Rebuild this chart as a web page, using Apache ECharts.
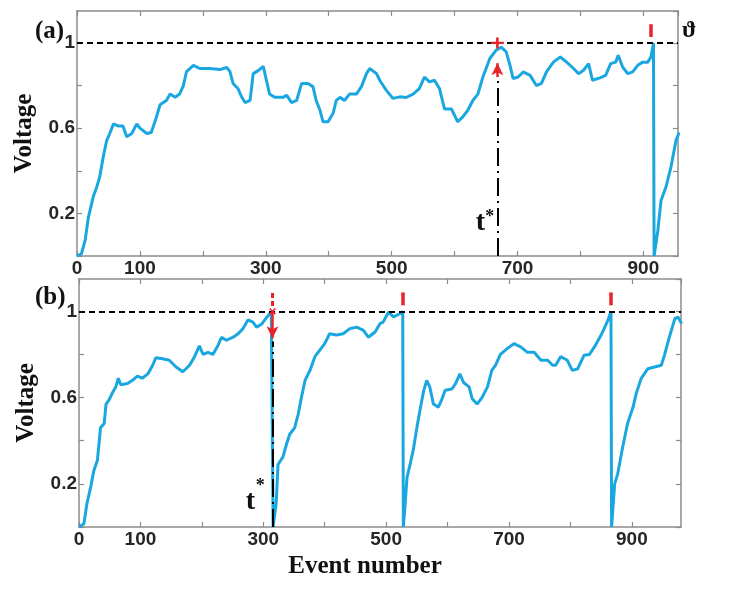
<!DOCTYPE html>
<html>
<head>
<meta charset="utf-8">
<script src="https://cdn.jsdelivr.net/npm/echarts/dist/echarts.min.js"></script>
<style>
html,body{margin:0;padding:0;background:#fff;}
#chart{width:756px;height:592px;}
</style>
</head>
<body>
<div id="chart"></div>
<script>
// ---------- data ----------
const xTickLabels = [0, 100, 300, 500, 700, 900];
const yTickLabels = [0.2, 0.6, 1];
const threshold = 1;

// panel (a)
const eventsA = [0,7,13,18,26,31,36,42,47,52,58,66,73,79,87,95,100,111,118,126,132,142,148,156,163,169,174,185,195,211,227,238,243,248,256,261,267,275,280,288,296,301,306,314,328,333,341,349,357,367,375,380,386,391,399,407,412,418,425,433,444,452,460,465,476,481,491,502,513,523,534,544,552,560,568,576,584,595,605,613,621,629,637,645,656,666,674,682,688,693,701,709,720,730,738,746,757,768,778,789,797,805,813,819,832,840,848,856,860,867,875,883,891,899,907,912,916,917,923,928,936,944,952,957];
const voltageA = [0,0.01,0.075,0.18,0.28,0.32,0.37,0.47,0.54,0.575,0.62,0.61,0.61,0.56,0.575,0.62,0.6,0.575,0.58,0.65,0.71,0.73,0.76,0.745,0.76,0.8,0.865,0.895,0.88,0.88,0.875,0.885,0.865,0.81,0.785,0.75,0.72,0.73,0.856,0.87,0.89,0.825,0.76,0.745,0.745,0.755,0.72,0.73,0.81,0.81,0.795,0.73,0.685,0.63,0.63,0.67,0.73,0.745,0.73,0.76,0.76,0.795,0.856,0.88,0.856,0.825,0.78,0.74,0.747,0.744,0.76,0.786,0.84,0.817,0.825,0.786,0.69,0.69,0.63,0.653,0.684,0.73,0.76,0.84,0.927,0.966,0.98,0.958,0.895,0.833,0.84,0.864,0.848,0.8,0.81,0.864,0.91,0.934,0.91,0.88,0.856,0.872,0.903,0.825,0.837,0.848,0.903,0.91,0.942,0.887,0.856,0.864,0.895,0.91,0.91,0.934,1.0,0.0,0.12,0.26,0.325,0.42,0.545,0.58];
const tStarA = 668;
const fireTimesA = [911];
const xMaxA = 955;

// panel (b)
const eventsB = [0,8,13,19,24,30,35,41,44,49,54,60,64,68,79,87,95,103,112,120,125,136,147,158,169,180,188,196,202,210,218,226,232,240,251,259,267,275,283,289,297,305,313,315,316,321,324,332,338,343,351,357,362,368,376,384,392,400,408,419,430,441,452,463,471,482,490,495,504,512,523,527,528,531,534,539,544,550,555,561,566,571,577,585,590,596,607,613,620,626,635,640,648,656,665,672,678,686,697,708,719,730,741,752,763,771,776,784,795,803,812,822,831,839,850,861,866,867,872,877,885,893,902,907,915,926,937,948,953,961,970,975,981];
const voltageB = [0,0.015,0.11,0.185,0.26,0.31,0.46,0.48,0.57,0.59,0.62,0.65,0.69,0.66,0.665,0.68,0.70,0.69,0.71,0.75,0.785,0.78,0.773,0.742,0.72,0.75,0.79,0.84,0.80,0.81,0.80,0.84,0.88,0.866,0.88,0.896,0.92,0.96,0.95,0.927,0.94,0.97,0.997,1.0,0,0.11,0.29,0.325,0.386,0.43,0.46,0.525,0.60,0.68,0.726,0.79,0.82,0.85,0.896,0.89,0.896,0.92,0.927,0.912,0.88,0.904,0.943,0.95,0.997,0.974,0.99,1.0,0,0.11,0.23,0.29,0.355,0.46,0.54,0.63,0.68,0.65,0.57,0.556,0.587,0.634,0.64,0.665,0.71,0.67,0.65,0.595,0.57,0.60,0.65,0.726,0.75,0.80,0.827,0.85,0.835,0.81,0.81,0.773,0.773,0.75,0.75,0.79,0.773,0.726,0.734,0.796,0.80,0.835,0.89,0.958,1.0,0,0.2,0.247,0.37,0.48,0.556,0.618,0.688,0.734,0.742,0.75,0.796,0.88,0.966,0.974,0.943];
const tStarB = 315;
const fireTimesB = [527, 866];
const xMaxB = 980;

// ---------- styling ----------
const BLUE = '#1aa7e0';
const RED = '#e8232a';
const AXIS = '#8c8c8c';
const labelFont = {fontFamily: 'Liberation Sans, Arial, sans-serif', fontWeight: 'bold', fontSize: 19, color: '#262626'};
const serifBold = {fontFamily: 'Liberation Serif, Times New Roman, serif', fontWeight: 'bold', color: '#111'};

function near(list, v) { return list.some(t => Math.abs(t - v) < 1e-6); }

function xAxisPair(gridIndex, max) {
  const common = {
    type: 'value', gridIndex, min: 0, max, interval: 100,
    splitLine: {show: false},
    axisLine: {show: true, onZero: false, lineStyle: {color: AXIS, width: 1.5}},
    axisTick: {show: true, inside: true, length: 5, lineStyle: {color: AXIS, width: 1.2}},
  };
  return [
    Object.assign({}, common, {
      position: 'bottom',
      axisLabel: Object.assign({show: true, margin: 3, showMaxLabel: false,
        formatter: v => near(xTickLabels, v) ? String(v) : ''}, labelFont)
    }),
    Object.assign({}, common, {position: 'top', axisLabel: {show: false}})
  ];
}
function yAxisPair(gridIndex) {
  const common = {
    type: 'value', gridIndex, min: 0, max: 1.15, interval: 0.2,
    splitLine: {show: false},
    axisLine: {show: true, onZero: false, lineStyle: {color: AXIS, width: 1.5}},
    axisTick: {show: true, inside: true, length: 5, lineStyle: {color: AXIS, width: 1.2}},
  };
  return [
    Object.assign({}, common, {
      position: 'left',
      name: 'Voltage', nameLocation: 'middle', nameGap: 40, nameRotate: 90,
      nameTextStyle: Object.assign({fontSize: 25}, serifBold),
      axisLabel: Object.assign({show: true, margin: 2, showMaxLabel: false,
        formatter: v => near(yTickLabels, v) ? String(+v.toFixed(1)) : ''}, labelFont)
    }),
    Object.assign({}, common, {position: 'right', axisLabel: {show: false}})
  ];
}

const plusPath = 'path://M4,0 H6 V4 H10 V6 H6 V10 H4 V6 H0 V4 H4 Z';
const dashDot = [18, 5, 2, 5];

function redBar(t) {
  return [
    {coord: [t, 1.028], symbol: 'none', lineStyle: {color: RED, width: 3.5, type: 'solid'}},
    {coord: [t, 1.088], symbol: 'none', lineStyle: {color: RED, width: 3.5, type: 'solid'}}
  ];
}
function textPoint(x, y, txt, size) {
  return {
    coord: [x, y], symbol: 'circle', symbolSize: 1, itemStyle: {color: 'rgba(0,0,0,0)'},
    label: Object.assign({show: true, position: 'inside', formatter: txt, fontSize: size}, serifBold)
  };
}

const seriesA = {
  type: 'line', xAxisIndex: 0, yAxisIndex: 0,
  data: eventsA.map((x, i) => [x, voltageA[i]]),
  showSymbol: false, symbol: 'none', smooth: false,
  lineStyle: {color: BLUE, width: 3}, z: 3,
  markLine: {
    silent: true, animation: false, symbol: 'none',
    label: {show: false},
    data: [
      {yAxis: threshold, lineStyle: {color: '#000', width: 2, type: [6, 4]},
       label: Object.assign({show: true, position: 'end', formatter: 'ϑ', fontSize: 24, distance: 4, verticalAlign: 'bottom'}, serifBold)},
      [
        {coord: [tStarA, 0], symbol: 'none', lineStyle: {color: '#000', width: 2, type: dashDot}},
        {coord: [tStarA, 0.84], symbol: 'none', lineStyle: {color: '#000', width: 2, type: dashDot}}
      ],
      [
        {coord: [tStarA, 0.84], symbol: 'none', lineStyle: {color: RED, width: 2.5, type: 'solid'}},
        {coord: [tStarA, 0.905], symbol: 'arrow', symbolSize: [9, 12], lineStyle: {color: RED, width: 2.5, type: 'solid'}}
      ]
    ].concat(fireTimesA.map(redBar))
  },
  markPoint: {
    silent: true, animation: false,
    data: [
      {coord: [tStarA, threshold], symbol: plusPath, symbolSize: [13, 11], itemStyle: {color: RED}, label: {show: false}, z: 10},
      textPoint(tStarA - 27, 0.155, 't', 28),
      textPoint(tStarA - 12, 0.18, '*', 18)
    ]
  }
};

const seriesB = {
  type: 'line', xAxisIndex: 2, yAxisIndex: 2,
  data: eventsB.map((x, i) => [x, voltageB[i]]),
  showSymbol: false, symbol: 'none', smooth: false,
  lineStyle: {color: BLUE, width: 3}, z: 3,
  markLine: {
    silent: true, animation: false, symbol: 'none',
    label: {show: false},
    data: [
      {yAxis: threshold, lineStyle: {color: '#000', width: 2, type: [6, 4]}},
      [
        {coord: [tStarB, 0], symbol: 'none', lineStyle: {color: '#000', width: 2, type: dashDot}},
        {coord: [tStarB, 0.86], symbol: 'none', lineStyle: {color: '#000', width: 2, type: dashDot}}
      ],
      [
        {coord: [tStarB, 0.995], symbol: 'none', lineStyle: {color: RED, width: 2.5, type: 'solid'}},
        {coord: [tStarB, 0.875], symbol: 'arrow', symbolSize: [9, 12], lineStyle: {color: RED, width: 2.5, type: 'solid'}}
      ],
      [
        {coord: [tStarB, 1.025], symbol: 'none', lineStyle: {color: RED, width: 3, type: [5, 3]}},
        {coord: [tStarB, 1.095], symbol: 'none', lineStyle: {color: RED, width: 3, type: [5, 3]}}
      ]
    ].concat(fireTimesB.map(redBar))
  },
  markPoint: {
    silent: true, animation: false,
    data: [
      {coord: [tStarB, threshold], symbol: plusPath, symbolSize: [8, 8], symbolRotate: 45, itemStyle: {color: RED}, label: {show: false}},
      textPoint(tStarB - 36, 0.115, 't', 28),
      textPoint(tStarB - 20, 0.19, '*', 18)
    ]
  }
};

const xa = xAxisPair(0, xMaxA);
const xb = xAxisPair(1, xMaxB);
xb[0].name = 'Event number';
xb[0].nameLocation = 'middle';
xb[0].nameGap = 27;
xb[0].nameTextStyle = Object.assign({fontSize: 25, padding: [0, 30, 0, 0]}, serifBold);

const option = {
  backgroundColor: '#fff',
  animation: false,
  grid: [
    {left: 77, top: 11, width: 601, height: 245, outerBoundsMode: 'none', containLabel: false},
    {left: 79, top: 279, width: 602, height: 248, outerBoundsMode: 'none', containLabel: false}
  ],
  xAxis: [xa[0], xa[1], xb[0], xb[1]],
  yAxis: yAxisPair(0).concat(yAxisPair(1)),
  title: [
    {text: '(a)', left: 30, top: 14, textStyle: Object.assign({fontSize: 25}, serifBold)},
    {text: '(b)', left: 30, top: 280, textStyle: Object.assign({fontSize: 25}, serifBold)}
  ],
  series: [seriesA, seriesB]
};

const chart = echarts.init(document.getElementById('chart'), null, {renderer: 'canvas'});
chart.setOption(option);
</script>
</body>
</html>
